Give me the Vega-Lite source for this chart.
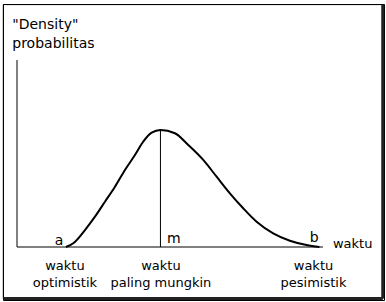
{
  "$schema": "https://vega.github.io/schema/vega-lite/v6.json",
  "width": 381,
  "height": 296,
  "autosize": "none",
  "padding": {"left": 3, "top": 4, "right": 2, "bottom": 2},
  "background": "white",
  "config": {"view": {"stroke": "black", "strokeWidth": 1}},
  "datasets": {
    "curve": [
      {"t": 2.0, "d": 0},
      {"t": 2.232, "d": 0.032},
      {"t": 2.603, "d": 0.145},
      {"t": 2.921, "d": 0.259},
      {"t": 3.238, "d": 0.387},
      {"t": 3.556, "d": 0.515},
      {"t": 3.873, "d": 0.658},
      {"t": 4.19, "d": 0.786},
      {"t": 4.454, "d": 0.9},
      {"t": 4.721, "d": 0.977},
      {"t": 5.0, "d": 1.0},
      {"t": 5.46, "d": 0.972},
      {"t": 5.883, "d": 0.872},
      {"t": 6.359, "d": 0.744},
      {"t": 6.784, "d": 0.601},
      {"t": 7.206, "d": 0.459},
      {"t": 7.629, "d": 0.331},
      {"t": 8.054, "d": 0.216},
      {"t": 8.581, "d": 0.117},
      {"t": 9.111, "d": 0.054},
      {"t": 9.641, "d": 0.017},
      {"t": 10.05, "d": 0}
    ],
    "lines": [
      {"t": 0.445, "t2": 0.445, "d": 0, "d2": 1.598},
      {"t": 0.445, "t2": 10.16, "d": 0, "d2": 0},
      {"t": 5.0, "t2": 5.0, "d": 0, "d2": 1.0}
    ],
    "box": [
      {"t": 0.01, "t2": 12.06, "d": -0.44, "d2": 2.072}
    ],
    "shadow": [
      {"t": 12.06, "t2": 12.06, "d": -0.44, "d2": 2.072},
      {"t": 0.01, "t2": 12.06, "d": -0.44, "d2": -0.44}
    ],
    "title": [
      {"t": 0.295, "d": 1.861, "label": "\"Density\"\nprobabilitas"}
    ],
    "points": [
      {"t": 1.778, "d": 0.017, "label": "a"},
      {"t": 5.424, "d": 0.034, "label": "m"},
      {"t": 9.883, "d": 0.043, "label": "b"}
    ],
    "axislabel": [
      {"t": 10.48, "d": -0.0085, "label": "waktu"}
    ],
    "bottom": [
      {"t": 1.968, "d": -0.197, "label": "waktu\noptimistik"},
      {"t": 5.016, "d": -0.197, "label": "waktu\npaling mungkin"},
      {"t": 9.861, "d": -0.197, "label": "waktu\npesimistik"}
    ]
  },
  "layer": [
    {
      "data": {"name": "box"},
      "mark": {"type": "rect", "fill": null, "fillOpacity": 0, "stroke": "black", "strokeWidth": 1, "clip": false},
      "encoding": {
        "x": {"field": "t", "type": "quantitative", "scale": {"domain": [0, 12.1], "nice": false, "zero": false}, "axis": null},
        "x2": {"field": "t2"},
        "y": {"field": "d", "type": "quantitative", "scale": {"domain": [-0.453, 2.077], "nice": false, "zero": false}, "axis": null},
        "y2": {"field": "d2"}
      }
    },
    {
      "data": {"name": "shadow"},
      "mark": {"type": "rule", "color": "#222222", "strokeWidth": 3, "clip": false},
      "encoding": {
        "x": {"field": "t", "type": "quantitative"},
        "x2": {"field": "t2"},
        "y": {"field": "d", "type": "quantitative"},
        "y2": {"field": "d2"}
      }
    },
    {
      "data": {"name": "lines"},
      "mark": {"type": "rule", "color": "black", "strokeWidth": 1},
      "encoding": {
        "x": {"field": "t", "type": "quantitative"},
        "x2": {"field": "t2"},
        "y": {"field": "d", "type": "quantitative"},
        "y2": {"field": "d2"}
      }
    },
    {
      "data": {"name": "curve"},
      "mark": {"type": "line", "color": "black", "strokeWidth": 2, "interpolate": "monotone"},
      "encoding": {
        "x": {"field": "t", "type": "quantitative"},
        "y": {"field": "d", "type": "quantitative"}
      }
    },
    {
      "data": {"name": "title"},
      "mark": {"type": "text", "font": "DejaVu Sans", "fontSize": 14, "baseline": "alphabetic", "align": "left", "lineBreak": "\n", "lineHeight": 19, "color": "black"},
      "encoding": {
        "x": {"field": "t", "type": "quantitative"},
        "y": {"field": "d", "type": "quantitative"},
        "text": {"field": "label"}
      }
    },
    {
      "data": {"name": "points"},
      "mark": {"type": "text", "font": "DejaVu Sans", "fontSize": 14, "baseline": "alphabetic", "align": "center", "color": "black"},
      "encoding": {
        "x": {"field": "t", "type": "quantitative"},
        "y": {"field": "d", "type": "quantitative"},
        "text": {"field": "label"}
      }
    },
    {
      "data": {"name": "axislabel"},
      "mark": {"type": "text", "font": "DejaVu Sans", "fontSize": 13, "baseline": "alphabetic", "align": "left", "color": "black"},
      "encoding": {
        "x": {"field": "t", "type": "quantitative"},
        "y": {"field": "d", "type": "quantitative"},
        "text": {"field": "label"}
      }
    },
    {
      "data": {"name": "bottom"},
      "mark": {"type": "text", "font": "DejaVu Sans", "fontSize": 13, "baseline": "alphabetic", "align": "center", "lineBreak": "\n", "lineHeight": 16.5, "color": "black"},
      "encoding": {
        "x": {"field": "t", "type": "quantitative"},
        "y": {"field": "d", "type": "quantitative"},
        "text": {"field": "label"}
      }
    }
  ]
}
